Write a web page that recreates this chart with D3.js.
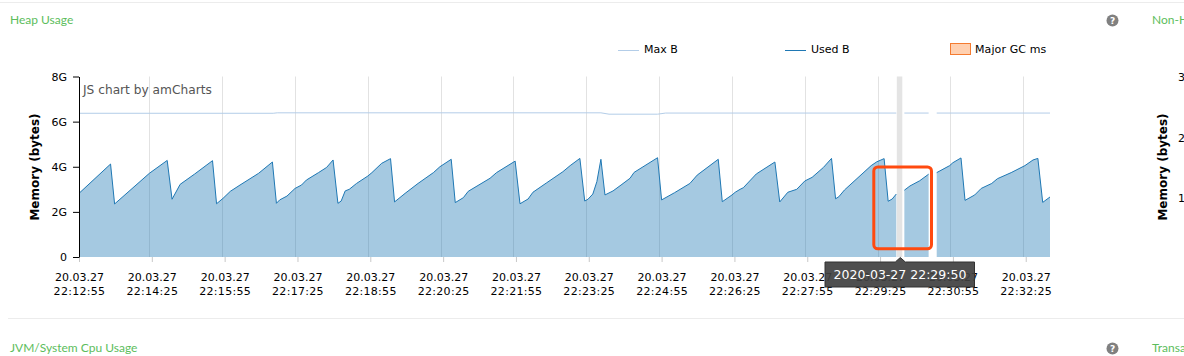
<!DOCTYPE html>
<html>
<head>
<meta charset="utf-8">
<script src="https://cdn.jsdelivr.net/npm/d3@7"></script>
<style>
  html, body { margin: 0; padding: 0; background: #fff; overflow: hidden; }
  svg { display: block; font-family: "DejaVu Sans", sans-serif; }
  .title { font-family: Lato, sans-serif; font-size: 12px; fill: #5cbd5c; }
  .grid line { stroke: #e2e2e2; }
  .x-axis line { stroke: #c8c8c8; }
  .y-axis path, .y-axis line { stroke: #000; }
  .tick text { font-family: "DejaVu Sans", sans-serif; font-size: 11px; fill: #000; }
</style>
</head>
<body>
<svg id="heap-chart" width="1184" height="356"></svg>
<script>
// seconds since 22:12:55, null value = no sample
var usedSeconds = [0, 39, 44, 87, 109, 115, 125, 143, 165, 170, 178, 187, 199, 222, 239, 244, 248, 257, 267, 275, 281, 296, 306, 314, 320, 324, 329, 334, 343, 357, 362, 374, 385, 390, 403, 419, 438, 446, 460, 465, 475, 481, 508, 516, 539, 545, 555, 561, 578, 598, 607, 613, 619, 625, 629, 635, 640, 645, 650, 660, 671, 681, 686, 715, 720, 736, 755, 764, 790, 795, 807, 811, 817, 821, 837, 860, 866, 876, 887, 897, 906, 920, 930, 935, 939, 946, 979, 986, 995, 1000, 1005, 1010, 1015, 1020, 1027, 1039, 1050, 1055, 1060, 1076, 1080, 1090, 1095, 1107, 1115, 1128, 1135, 1152, 1169, 1179, 1185, 1191, 1200];
var usedGb = [2.82, 4.12, 2.35, 3.71, 4.28, 2.56, 3.22, 3.68, 4.27, 2.36, 2.6, 2.91, 3.19, 3.71, 4.21, 2.38, 2.53, 2.7, 3.04, 3.19, 3.41, 3.74, 3.97, 4.3, 2.38, 2.48, 2.93, 3.0, 3.26, 3.59, 3.74, 4.15, 4.36, 2.44, 2.82, 3.26, 3.74, 4.0, 4.33, 2.41, 2.63, 2.91, 3.49, 3.74, 4.25, 2.36, 2.57, 2.87, 3.29, 3.78, 4.05, 4.21, 4.37, 2.48, 2.56, 2.79, 3.34, 4.33, 2.75, 2.93, 3.22, 3.49, 3.75, 4.4, 2.53, 2.85, 3.26, 3.63, 4.33, 2.45, 2.75, 2.87, 3.0, 3.07, 3.68, 4.21, 2.44, 2.87, 3.0, 3.37, 3.53, 3.97, 4.37, 2.58, 2.67, 2.97, 4.05, 4.22, 4.36, 2.47, 2.57, 2.79, null, 2.96, 3.15, 3.38, 3.67, null, 3.74, 4.05, 4.18, 4.39, 2.51, 2.75, 3.04, 3.26, 3.47, 3.74, 4.05, 4.3, 4.37, 2.42, 2.66];

var maxSeconds = [0, 240, 245, 645, 655, 715, 725, 1010, 1015, 1020, 1050, 1055, 1060, 1200];
var maxGb = [6.37, 6.37, 6.39, 6.39, 6.33, 6.33, 6.38, 6.38, null, 6.38, 6.38, null, 6.38, 6.38];

var tickSeconds = [0, 90, 180, 270, 360, 450, 540, 630, 720, 810, 900, 990, 1080, 1170];
var tickDates = ["20.03.27", "20.03.27", "20.03.27", "20.03.27", "20.03.27", "20.03.27", "20.03.27", "20.03.27", "20.03.27", "20.03.27", "20.03.27", "20.03.27", "20.03.27", "20.03.27"];
var tickTimes = ["22:12:55", "22:14:25", "22:15:55", "22:17:25", "22:18:55", "22:20:25", "22:21:55", "22:23:25", "22:24:55", "22:26:25", "22:27:55", "22:29:25", "22:30:55", "22:32:25"];
var yTicks = [0, 2, 4, 6, 8];
var cursorSecond = 1015;
var cursorLabel = "2020-03-27 22:29:50";
var rightAxisLabels = ["3", "2", "1"];

var svg = d3.select("#heap-chart");

var x = d3.scaleLinear().domain([0, 1200]).range([79, 1050]);
var y = d3.scaleLinear().domain([0, 8]).range([257, 76.5]);

var used = usedSeconds.map(function(s, i) { return {s: s, v: usedGb[i]}; });
var max = maxSeconds.map(function(s, i) { return {s: s, v: maxGb[i]}; });

// page furniture around the chart
svg.append("line").attr("x1", 0).attr("x2", 1184).attr("y1", 2.5).attr("y2", 2.5).attr("stroke", "#ececec");
svg.append("line").attr("x1", 8).attr("x2", 1184).attr("y1", 318.5).attr("y2", 318.5).attr("stroke", "#ececec");
svg.append("text").attr("class", "title").attr("x", 10).attr("y", 24).text("Heap Usage");
svg.append("text").attr("class", "title").attr("x", 10).attr("y", 352).text("JVM/System Cpu Usage");
svg.append("text").attr("class", "title").attr("x", 1152).attr("y", 24).text("Non-H");
svg.append("text").attr("class", "title").attr("x", 1152).attr("y", 352).text("Transa");

[20.5, 348.5].forEach(function(cy) {
  svg.append("circle").attr("cx", 1112.5).attr("cy", cy).attr("r", 6).attr("fill", "#808080");
  svg.append("text").attr("x", 1112.5).attr("y", cy + 3.5).attr("text-anchor", "middle")
    .attr("font-size", 9).attr("font-weight", "bold").attr("fill", "#fff").text("?");
});

// gridlines sit under the area, slightly left of the ticks
svg.append("g").attr("class", "grid")
  .selectAll("line").data(tickSeconds.slice(1)).enter().append("line")
  .attr("x1", function(d) { return Math.floor(x(d)) - 1.5; })
  .attr("x2", function(d) { return Math.floor(x(d)) - 1.5; })
  .attr("y1", y(8)).attr("y2", y(0));

// cursor band
svg.append("rect")
  .attr("x", x(cursorSecond) - 3.5).attr("width", 5.5)
  .attr("y", y(8)).attr("height", y(0) - y(8))
  .attr("fill", "#e4e4e4");

var usedArea = d3.area()
  .defined(function(d) { return d.v !== null; })
  .x(function(d) { return x(d.s); })
  .y0(y(0))
  .y1(function(d) { return y(d.v); });

var valueline = d3.line()
  .defined(function(d) { return d.v !== null; })
  .x(function(d) { return x(d.s); })
  .y(function(d) { return y(d.v); });

svg.append("path").datum(used).attr("d", usedArea).attr("fill", "#1f78b4").attr("fill-opacity", 0.4);
svg.append("path").datum(used).attr("d", valueline).attr("fill", "none").attr("stroke", "#1f78b4").attr("stroke-width", 1);
svg.append("path").datum(max).attr("d", valueline).attr("fill", "none").attr("stroke", "#b3cde8").attr("stroke-width", 1);

// axes
var xAxis = svg.append("g").attr("class", "x-axis")
  .attr("transform", "translate(0," + y(0) + ")")
  .call(d3.axisBottom(x).tickValues(tickSeconds).tickSize(5).tickFormat(""));
xAxis.select(".domain").remove();
xAxis.selectAll(".tick text").each(function(d, i) {
  var t = d3.select(this).attr("y", 0).attr("dy", null);
  t.append("tspan").attr("x", 0).attr("y", 24).text(tickDates[i]);
  t.append("tspan").attr("x", 0).attr("y", 37.5).attr("letter-spacing", 0.3).text(tickTimes[i]);
});

svg.append("g").attr("class", "y-axis")
  .attr("transform", "translate(79,0)")
  .call(d3.axisLeft(y).tickValues(yTicks).tickSize(6).tickSizeOuter(0).tickPadding(6)
    .tickFormat(function(d) { return d ? d + "G" : "0"; }));

svg.append("text")
  .attr("transform", "translate(39,167) rotate(-90)")
  .attr("text-anchor", "middle").attr("font-size", 12).attr("font-weight", "bold")
  .text("Memory (bytes)");

svg.append("text").attr("x", 83).attr("y", 94).attr("font-size", 12.2).attr("fill", "#555")
  .text("JS chart by amCharts");

// legend
svg.append("line").attr("x1", 618).attr("x2", 639).attr("y1", 50.5).attr("y2", 50.5).attr("stroke", "#b3cde8");
svg.append("text").attr("x", 644).attr("y", 53).attr("font-size", 11).text("Max B");
svg.append("line").attr("x1", 785).attr("x2", 806).attr("y1", 50.5).attr("y2", 50.5).attr("stroke", "#1f78b4");
svg.append("text").attr("x", 811).attr("y", 53).attr("font-size", 11).text("Used B");
svg.append("rect").attr("x", 950.5).attr("y", 43.5).attr("width", 20).attr("height", 11)
  .attr("fill", "#ffd0b0").attr("stroke", "#f47b30");
svg.append("text").attr("x", 975).attr("y", 53).attr("font-size", 11).attr("letter-spacing", 0.1).text("Major GC ms");

// next chart's axis, cut off by the page edge
svg.append("text")
  .attr("transform", "translate(1167,167) rotate(-90)")
  .attr("text-anchor", "middle").attr("font-size", 12).attr("font-weight", "bold")
  .text("Memory (bytes)");
rightAxisLabels.forEach(function(label, i) {
  svg.append("text").attr("x", 1178).attr("y", 81 + i * 60.5).attr("font-size", 11).text(label);
});

// red annotation box
svg.append("rect")
  .attr("x", 873.8).attr("y", 167).attr("width", 57.7).attr("height", 81.8).attr("rx", 4)
  .attr("fill", "none").attr("stroke", "#ff4a0f").attr("stroke-width", 3);

// tooltip balloon
var tipX = x(cursorSecond);
svg.append("path")
  .attr("d", d3.line()([[825, 262], [tipX - 5, 262], [tipX, 257.5], [tipX + 5, 262], [974.5, 262], [974.5, 287], [825, 287]]) + "Z")
  .attr("fill", "#404040").attr("fill-opacity", 0.92).attr("stroke", "#333");
svg.append("text").attr("x", 900).attr("y", 279).attr("text-anchor", "middle")
  .attr("font-size", 12.5).attr("fill", "#fff").text(cursorLabel);
</script>
</body>
</html>
